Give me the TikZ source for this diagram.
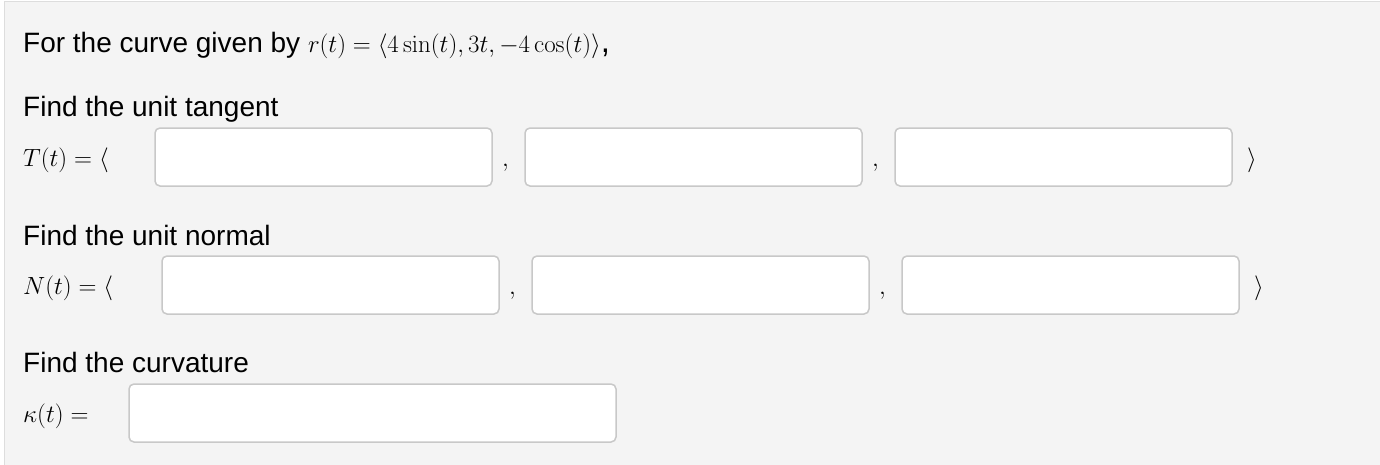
\documentclass[tikz,border=0pt]{standalone}
\usepackage{amsmath}
\usepackage[no-math]{fontspec}
\setmainfont{Liberation Sans}
\definecolor{bg}{HTML}{F4F4F4}
\definecolor{bd}{HTML}{DDDDDD}
\definecolor{boxbd}{HTML}{C8C8C8}
\newcommand{\txtsz}{\fontsize{28}{32}\selectfont}
\newcommand{\mthsz}{\fontsize{33}{38}\selectfont}
\begin{document}
\begin{tikzpicture}[x=1pt,y=-1pt,
  txt/.style={anchor=base west,inner sep=0},
  field/.style={draw=boxbd,line width=1.5pt,fill=white,rounded corners=5pt}]
\useasboundingbox (0,0) rectangle (1380,464);
\fill[white] (0,0) rectangle (1380,464);
\filldraw[fill=bg,draw=bd,line width=0.8pt] (4,1) rectangle (1382,466);
\node[txt] (l1) at (23,52) {\txtsz For the curve given by \mthsz$r(t)=\langle 4\sin(t),3t,-4\cos(t)\rangle$,};
\node[txt] (l2) at (23,116) {\txtsz Find the unit tangent};
\node[txt] (T) at (23,166) {\mthsz$T(t)=\langle$};
\draw[field] (155,128) rectangle (492,186);
\node[txt] (c1) at (502,166) {\mthsz$,$};
\draw[field] (525,128) rectangle (862,186);
\node[txt] (c2) at (872,166) {\mthsz$,$};
\draw[field] (895,128) rectangle (1232,186);
\node[txt] (r1) at (1247,166) {\mthsz$\rangle$};
\node[txt] (l3) at (23,245) {\txtsz Find the unit normal};
\node[txt] (N) at (23,294) {\mthsz$N(t)=\langle$};
\draw[field] (162,256) rectangle (499,314);
\node[txt] (c3) at (509,294) {\mthsz$,$};
\draw[field] (532,256) rectangle (869,314);
\node[txt] (c4) at (879,294) {\mthsz$,$};
\draw[field] (902,256) rectangle (1239,314);
\node[txt] (r2) at (1254,294) {\mthsz$\rangle$};
\node[txt] (l4) at (23,372) {\txtsz Find the curvature};
\node[txt] (K) at (23,422) {\mthsz$\kappa(t)=$};
\draw[field] (129,384) rectangle (616,442);
\end{tikzpicture}
\end{document}
